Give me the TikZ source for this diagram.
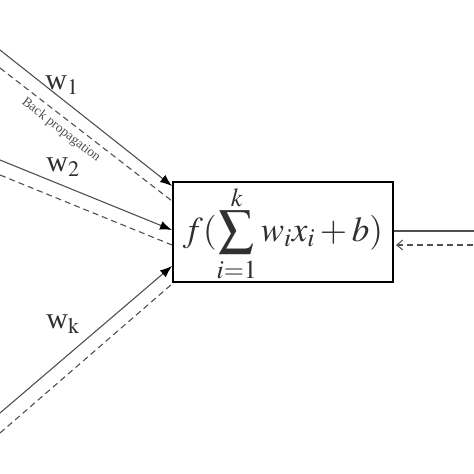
\documentclass[tikz,border=0pt]{standalone}
\usepackage{mathptmx}
\usepackage[no-math]{fontspec}
\setmainfont{Liberation Serif}
\usetikzlibrary{arrows.meta,calc}
\definecolor{ln}{HTML}{505050}
\definecolor{tx}{HTML}{303030}
\newcommand{\liftlim}[2]{\raisebox{#1}[0pt][0pt]{$\scriptstyle #2$}}
\tikzset{
  wire/.style={draw=ln, line width=1.1pt},
  wireback/.style={draw=ln, line width=1.1pt, dash pattern=on 6pt off 4pt},
  tip/.style={-{Latex[length=12pt,width=9pt,color=black]}},
  opentip/.style={{Straight Barb[length=6pt,width=10pt,line width=1pt]}-},
  wlabel/.style={font=\fontsize{30}{32}\selectfont, text=tx, inner sep=0pt},
  neuron/.style={draw=black, line width=2pt, minimum width=220pt, minimum height=100pt, inner sep=0pt}
}
\begin{document}
\begin{tikzpicture}[x=1pt,y=-1pt]
\useasboundingbox (0,0) rectangle (474,474);
\node[neuron, text=tx] (box) at (283,232) {\fontsize{35}{40}\selectfont$\displaystyle f(\sum_{\liftlim{-3pt}{i=1}}^{\liftlim{-10pt}{k}} w_i x_i + b)$};
% free ends
\coordinate (a1) at (0,50);
\coordinate (b1) at (0,68);
\coordinate (a2) at (0,160);
\coordinate (b2) at (0,175);
\coordinate (ak) at (0,413);
\coordinate (bk) at (0,433);
\coordinate (oa) at (474,231);
\coordinate (ob) at (474,245);
% ends on the box (y grows downwards)
\coordinate (t1) at ($(box.north west)+(0,5)$);
\coordinate (u1) at ($(box.north west)+(0,20)$);
\coordinate (t2) at ($(box.west)+(0,-2)$);
\coordinate (u2) at ($(box.west)+(0,13)$);
\coordinate (tk) at ($(box.south west)+(0,-17)$);
\coordinate (uk) at ($(box.south west)+(0,1)$);
\coordinate (ro) at ($(box.east)+(0,-1)$);
\coordinate (rb) at ($(box.east)+(2,13)$);
\draw[wire,tip] (a1) -- (t1);
\draw[wireback] (b1) -- (u1);
\draw[wire,tip] (a2) -- (t2);
\draw[wireback] (b2) -- (u2);
\draw[wire,tip] (ak) -- (tk);
\draw[wireback] (bk) -- (uk);
\draw[wire] (ro) -- (oa);
\draw[wireback,opentip] (rb) -- (ob);
\node[wlabel] (l1) at (62,85) {w$_{\mathrm{1}}$};
\node[wlabel] (l2) at (63,167) {w$_{\mathrm{2}}$};
\node[wlabel] (lk) at (63,324) {w$_{\mathrm{k}}$};
\node[text=ln, font=\fontsize{13.5}{14}\selectfont, rotate=-38, inner sep=0pt] (bp) at (61,130) {Back propagation};
\end{tikzpicture}
\end{document}
